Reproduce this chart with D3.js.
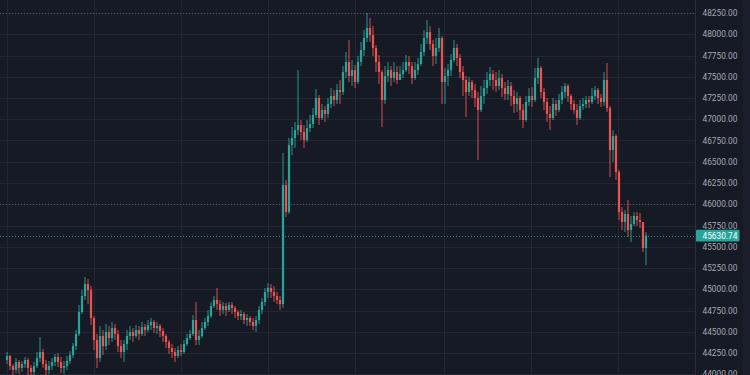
<!DOCTYPE html>
<html>
<head>
<meta charset="utf-8">
<script src="https://cdn.jsdelivr.net/npm/d3@7"></script>
<style>
  html, body { margin: 0; padding: 0; background: #161a25; }
  svg { display: block; }
  .axisLabel text { font-family: Roboto, "Noto Sans", sans-serif; }
</style>
</head>
<body>
<svg id="chart" width="750" height="375"></svg>
<script>
// OHLC candles (oldest first)
var opens = [
  44168,44215,44097,44050,44144,44073,44120,44168,44073,44026,
  44097,44191,44262,44120,44050,44097,44144,44203,44144,44073,
  44097,44156,44226,44332,44473,44732,44920,45062,44991,44662,
  44403,44191,44450,44332,44497,44426,44544,44473,44332,44262,
  44356,44450,44497,44450,44520,44473,44556,44520,44579,44615,
  44544,44568,44509,44450,44379,44309,44262,44215,44285,44262,
  44356,44426,44473,44638,44403,44450,44544,44615,44685,44803,
  44873,44826,44756,44803,44756,44815,44779,44732,44685,44709,
  44638,44662,44615,44568,44638,44756,44850,44968,45015,44968,
  44920,44873,44826,46226,45909,46697,46779,46873,46932,46850,
  46756,46897,46944,47050,47250,47015,47109,47062,47179,47274,
  47226,47344,47321,47556,47674,47509,47579,47438,47674,47815,
  47956,48074,47991,47838,47674,47556,47226,47509,47579,47485,
  47556,47462,47532,47579,47674,47626,47485,47579,47650,47791,
  47956,48026,47885,47744,47838,47956,47438,47509,47579,47697,
  47838,47721,47556,47462,47321,47438,47344,47250,47109,47274,
  47368,47462,47532,47462,47391,47485,47368,47297,47391,47274,
  47179,47250,47109,46991,47203,47274,47226,47485,47603,47321,
  47203,47062,47015,47179,47109,47226,47321,47391,47274,47179,
  47109,47015,47156,47179,47226,47203,47274,47344,47250,47203,
  47462,47132,46638,46803,46379,45909,45791,45885,45697,45768,
  45862,45815,45791,45485
];
var highs = [
  44262,44226,44120,44191,44168,44156,44203,44191,44109,44144,
  44262,44438,44297,44168,44156,44191,44238,44250,44203,44156,
  44215,44273,44368,44520,44815,44991,45144,45121,45038,44685,
  44473,44568,44520,44591,44568,44615,44591,44520,44403,44403,
  44520,44568,44544,44579,44568,44615,44591,44638,44662,44638,
  44615,44591,44544,44473,44403,44356,44309,44332,44356,44403,
  44473,44520,44697,44850,44520,44615,44662,44756,44850,44920,
  45015,44873,44850,44838,44850,44850,44803,44756,44756,44732,
  44709,44685,44662,44685,44803,44897,45015,45073,45062,45038,
  44968,44920,46603,46285,46779,46909,46968,47579,46991,46932,
  46991,47050,47132,47356,47285,47179,47156,47250,47368,47344,
  47415,47462,47626,47791,47932,47697,47638,47744,47909,48050,
  48250,48191,48097,47873,47756,47579,47626,47674,47626,47674,
  47626,47626,47674,47756,47744,47674,47674,47721,47885,48050,
  48168,48097,47932,47956,48074,47979,47603,47650,47768,47932,
  47885,47768,47626,47509,47497,47462,47415,47321,47391,47462,
  47556,47615,47579,47556,47579,47532,47438,47462,47438,47344,
  47321,47274,47179,47274,47368,47379,47603,47721,47626,47368,
  47250,47156,47250,47226,47297,47391,47426,47415,47297,47226,
  47179,47226,47250,47274,47274,47368,47391,47368,47297,47556,
  47662,47156,46873,46826,46403,45968,45932,46050,45862,45909,
  45909,45897,45791,45673
];
var lows = [
  44120,44050,43979,44015,44003,44026,44073,43979,43932,43956,
  44073,44144,44073,43979,44003,44050,44097,44085,44015,44003,
  44050,44120,44191,44285,44450,44709,44873,44826,44579,44285,
  44073,44144,44226,44285,44344,44379,44403,44262,44191,44144,
  44285,44403,44379,44426,44403,44450,44450,44497,44520,44485,
  44473,44438,44379,44309,44238,44191,44144,44191,44215,44238,
  44332,44403,44450,44344,44344,44426,44520,44568,44662,44779,
  44756,44685,44709,44685,44732,44709,44662,44638,44638,44591,
  44568,44568,44520,44497,44591,44709,44803,44897,44897,44850,
  44826,44756,44779,45850,45885,46579,46662,46815,46756,46662,
  46732,46850,46897,47015,46932,46991,46968,47015,47132,47156,
  47179,47179,47285,47485,47438,47391,47368,47415,47626,47744,
  47909,47909,47744,47556,47415,46909,47179,47438,47391,47438,
  47415,47462,47485,47556,47532,47415,47462,47521,47626,47744,
  47885,47815,47626,47650,47791,47179,47179,47391,47509,47674,
  47626,47485,47274,47026,47274,47250,47144,46520,47085,47179,
  47297,47391,47344,47321,47344,47262,47226,47226,47156,47073,
  47085,46991,46897,46968,47156,47144,47203,47415,47250,47109,
  46968,46873,46991,47038,47085,47179,47250,47203,47109,47062,
  46932,46991,47109,47132,47132,47179,47226,47179,47144,47156,
  47085,46320,46497,46285,45815,45697,45673,45615,45556,45744,
  45744,45721,45438,45285
];
var closes = [
  44215,44097,44050,44144,44073,44120,44168,44073,44026,44097,
  44191,44262,44120,44050,44097,44144,44203,44144,44073,44097,
  44156,44226,44332,44473,44732,44920,45062,44991,44662,44403,
  44191,44450,44332,44497,44426,44544,44473,44332,44262,44356,
  44450,44497,44450,44520,44473,44556,44520,44579,44615,44544,
  44568,44509,44450,44379,44309,44262,44215,44285,44262,44356,
  44426,44473,44638,44403,44450,44544,44615,44685,44803,44873,
  44826,44756,44803,44756,44815,44779,44732,44685,44709,44638,
  44662,44615,44568,44638,44756,44850,44968,45015,44968,44920,
  44873,44826,46226,45909,46697,46779,46873,46932,46850,46756,
  46897,46944,47050,47250,47015,47109,47062,47179,47274,47226,
  47344,47321,47556,47674,47509,47579,47438,47674,47815,47956,
  48074,47991,47838,47674,47556,47226,47509,47579,47485,47556,
  47462,47532,47579,47674,47626,47485,47579,47650,47791,47956,
  48026,47885,47744,47838,47956,47438,47509,47579,47697,47838,
  47721,47556,47462,47321,47438,47344,47250,47109,47274,47368,
  47462,47532,47462,47391,47485,47368,47297,47391,47274,47179,
  47250,47109,46991,47203,47274,47226,47485,47603,47321,47203,
  47062,47015,47179,47109,47226,47321,47391,47274,47179,47109,
  47015,47156,47179,47226,47203,47274,47344,47250,47203,47462,
  47132,46638,46803,46379,45909,45791,45885,45697,45768,45862,
  45815,45791,45485,45630.74
];

var priceTicks = [44000,44250,44500,44750,45000,45250,45500,45750,46000,
                  46250,46500,46750,47000,47250,47500,47750,48000,48250];
var timeGrid = [0, 29, 58, 87, 116, 145.5, 174.5, 203.5];   // in bar units
var refLevels = [48250, 46000];                              // dotted horizontal lines
var lastPrice = 45630.74;

var W = 750, H = 375;
var paneRight = 695.5;

var bars = closes.map(function (c, i) {
    return { i: i, o: opens[i], h: highs[i], l: lows[i], c: c };
});

var svg = d3.select("#chart");

var X_scale = d3.scaleLinear().domain([0, bars.length - 1]).range([7, 646]);
var Y_scale = d3.scaleLinear().domain([44000, 48250]).range([374.25, 13]);

svg.append("rect").attr("width", W).attr("height", H).attr("fill", "#161a25");
svg.append("rect").attr("x", 743).attr("width", 7).attr("height", H).attr("fill", "#1b1f2a");

// grid
var grid = svg.append("g").attr("id", "grid");
grid.selectAll(".hgrid")
    .data(priceTicks)
    .join("line")
    .attr("class", "hgrid")
    .attr("x1", 0).attr("x2", paneRight)
    .attr("y1", function (d) { return Math.round(Y_scale(d)) + 0.5; })
    .attr("y2", function (d) { return Math.round(Y_scale(d)) + 0.5; })
    .attr("stroke", "#232734").attr("stroke-width", 1);

grid.selectAll(".vgrid")
    .data(timeGrid)
    .join("line")
    .attr("class", "vgrid")
    .attr("x1", function (d) { return Math.round(X_scale(d)) + 0.5; })
    .attr("x2", function (d) { return Math.round(X_scale(d)) + 0.5; })
    .attr("y1", 0).attr("y2", H)
    .attr("stroke", "#232734").attr("stroke-width", 1);

// dotted reference lines
svg.selectAll(".refLine")
    .data(refLevels)
    .join("line")
    .attr("class", "refLine")
    .attr("x1", 0).attr("x2", paneRight)
    .attr("y1", function (d) { return Math.round(Y_scale(d)) + 0.5; })
    .attr("y2", function (d) { return Math.round(Y_scale(d)) + 0.5; })
    .attr("stroke", "#535764").attr("stroke-width", 1)
    .attr("stroke-dasharray", "1,2");

svg.append("line")
    .attr("x1", 0).attr("x2", paneRight)
    .attr("y1", Math.round(Y_scale(lastPrice)) + 0.5)
    .attr("y2", Math.round(Y_scale(lastPrice)) + 0.5)
    .attr("stroke", "#26a69a").attr("stroke-width", 1)
    .attr("stroke-dasharray", "1,2").attr("opacity", 0.8);

// candles
var up = "#26a69a", down = "#ef5350";
var candles = svg.append("g").attr("id", "candles");

candles.selectAll(".wick")
    .data(bars)
    .join("line")
    .attr("class", "wick")
    .attr("x1", function (d) { return X_scale(d.i); })
    .attr("x2", function (d) { return X_scale(d.i); })
    .attr("y1", function (d) { return Y_scale(d.h); })
    .attr("y2", function (d) { return Y_scale(d.l); })
    .attr("stroke", function (d) { return d.c >= d.o ? up : down; })
    .attr("stroke-width", 0.9);

candles.selectAll(".body")
    .data(bars)
    .join("rect")
    .attr("class", "body")
    .attr("x", function (d) { return X_scale(d.i) - 1.1; })
    .attr("width", 2.2)
    .attr("y", function (d) { return Y_scale(Math.max(d.o, d.c)); })
    .attr("height", function (d) { return Math.max(1, Math.abs(Y_scale(d.o) - Y_scale(d.c))); })
    .attr("fill", function (d) { return d.c >= d.o ? up : down; });

// price scale
svg.append("line")
    .attr("x1", paneRight).attr("x2", paneRight)
    .attr("y1", 0).attr("y2", H)
    .attr("stroke", "#2a2e39");

var axis = svg.append("g")
    .attr("class", "axisLabel")
    .attr("transform", "translate(" + paneRight + ",0)")
    .call(d3.axisRight(Y_scale).tickValues(priceTicks).tickFormat(d3.format(".2f"))
        .tickSize(0).tickPadding(7));
axis.select(".domain").remove();
axis.selectAll("text")
    .attr("fill", "#a6a9b2")
    .attr("font-size", "8.3px");

// last price tag
var tag = svg.append("g").attr("transform", "translate(" + (paneRight + 0.5) + "," + Y_scale(lastPrice) + ")");
tag.append("rect")
    .attr("x", 0).attr("y", -5.8).attr("width", 43.5).attr("height", 11.6)
    .attr("rx", 1)
    .attr("fill", "#26a69a");
tag.append("text")
    .attr("x", 6.5).attr("y", 0).attr("dy", "0.35em")
    .attr("fill", "#ffffff")
    .style("font-family", "Roboto, 'Noto Sans', sans-serif")
    .style("font-size", "8.3px")
    .text(d3.format(".2f")(lastPrice));
</script>
</body>
</html>
